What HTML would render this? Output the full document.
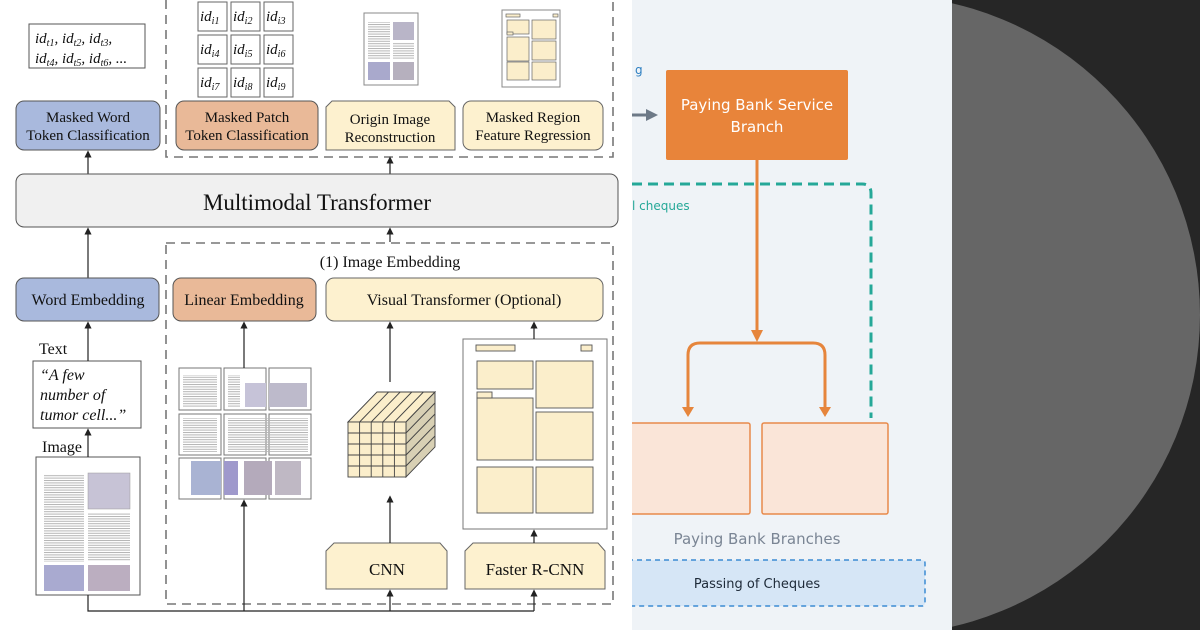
<!DOCTYPE html>
<html><head><meta charset="utf-8"><style>
html,body{margin:0;padding:0;width:1200px;height:630px;overflow:hidden;background:#fff}
svg{display:block}
.s{font-family:"Liberation Serif",serif;fill:#111}
.n{font-family:"DejaVu Sans","Liberation Sans",sans-serif}
</style></head><body>
<svg width="1200" height="630" viewBox="0 0 1200 630" xmlns="http://www.w3.org/2000/svg">
<defs>
<marker id="a" markerWidth="6" markerHeight="6" refX="3" refY="3" orient="auto"><path d="M0,0L6,3L0,6z" fill="#222"/></marker>
<marker id="o" markerWidth="4" markerHeight="4" refX="2" refY="2" orient="auto"><path d="M0,0L4,2L0,4z" fill="#e6853c"/></marker>
<marker id="g" markerWidth="4" markerHeight="4" refX="2" refY="2" orient="auto"><path d="M0,0L4,2L0,4z" fill="#6d7987"/></marker>
<pattern id="tl" width="4" height="2.4" patternUnits="userSpaceOnUse"><rect width="4" height="1" fill="#b5b5b5"/></pattern>
<clipPath id="dk"><rect x="952" y="0" width="248" height="630"/></clipPath>
</defs>

<rect x="952" y="0" width="248" height="630" fill="#262626"/>
<circle cx="880" cy="315" r="320" fill="#666" clip-path="url(#dk)"/>

<rect x="632" y="0" width="320" height="630" fill="#eff3f7"/>
<text x="635" y="74" class="n" font-size="12" fill="#2d7fc1">g</text>
<line x1="632" y1="115" x2="652" y2="115" stroke="#6d7987" stroke-width="3" marker-end="url(#g)"/>
<rect x="666" y="70" width="182" height="90" rx="2" fill="#e8843a"/>
<text x="757" y="110" class="n" font-size="15" fill="#fff" text-anchor="middle">Paying Bank Service</text>
<text x="757" y="132" class="n" font-size="15" fill="#fff" text-anchor="middle">Branch</text>
<path d="M632,184 H862 Q871,184 871,193 V418" fill="none" stroke="#25a898" stroke-width="3" stroke-dasharray="10,6"/>
<text x="632" y="210" class="n" font-size="12" fill="#25a898">l cheques</text>
<line x1="757" y1="160" x2="757" y2="336" stroke="#e6853c" stroke-width="3" marker-end="url(#o)"/>
<path d="M688,410 V355 Q688,343 700,343 H813 Q825,343 825,355 V410" fill="none" stroke="#e6853c" stroke-width="3"/>
<path d="M682,407 L694,407 L688,417z M819,407 L831,407 L825,417z" fill="#e6853c"/>
<rect x="625" y="423" width="125" height="91" rx="2" fill="#fae5d8" stroke="#e8894a" stroke-width="1.5"/>
<rect x="762" y="423" width="126" height="91" rx="2" fill="#fae5d8" stroke="#e8894a" stroke-width="1.5"/>
<text x="757" y="544" class="n" font-size="15" fill="#7a8594" text-anchor="middle">Paying Bank Branches</text>
<rect x="625" y="560" width="300" height="46" rx="3" fill="#d6e6f6" stroke="#3b8bd4" stroke-width="1.5" stroke-dasharray="5,4"/>
<text x="757" y="588" class="n" font-size="13" fill="#1e2a38" text-anchor="middle">Passing of Cheques</text>

<rect x="0" y="0" width="632" height="630" fill="#fff"/>

<path d="M166,0 V157 H613 V0" fill="none" stroke="#777" stroke-width="1.6" stroke-dasharray="9,6"/>
<rect x="29" y="24" width="116" height="44" fill="#fff" stroke="#555"/>
<text x="35" y="43" class="s" font-size="15" font-style="italic">id<tspan font-size="10" dy="3">t1</tspan><tspan dy="-3">, id</tspan><tspan font-size="10" dy="3">t2</tspan><tspan dy="-3">, id</tspan><tspan font-size="10" dy="3">t3</tspan><tspan dy="-3">,</tspan></text>
<text x="35" y="63" class="s" font-size="15" font-style="italic">id<tspan font-size="10" dy="3">t4</tspan><tspan dy="-3">, id</tspan><tspan font-size="10" dy="3">t5</tspan><tspan dy="-3">, id</tspan><tspan font-size="10" dy="3">t6</tspan><tspan dy="-3">, ...</tspan></text>
<g stroke="#666" fill="#fff">
<rect x="198" y="2" width="29" height="29"/><rect x="231" y="2" width="29" height="29"/><rect x="264" y="2" width="29" height="29"/>
<rect x="198" y="35" width="29" height="29"/><rect x="231" y="35" width="29" height="29"/><rect x="264" y="35" width="29" height="29"/>
<rect x="198" y="68" width="29" height="29"/><rect x="231" y="68" width="29" height="29"/><rect x="264" y="68" width="29" height="29"/>
</g>
<g class="s" font-size="15" font-style="italic">
<text x="200" y="21">id<tspan font-size="10" dy="3">i1</tspan></text><text x="233" y="21">id<tspan font-size="10" dy="3">i2</tspan></text><text x="266" y="21">id<tspan font-size="10" dy="3">i3</tspan></text>
<text x="200" y="54">id<tspan font-size="10" dy="3">i4</tspan></text><text x="233" y="54">id<tspan font-size="10" dy="3">i5</tspan></text><text x="266" y="54">id<tspan font-size="10" dy="3">i6</tspan></text>
<text x="200" y="87">id<tspan font-size="10" dy="3">i7</tspan></text><text x="233" y="87">id<tspan font-size="10" dy="3">i8</tspan></text><text x="266" y="87">id<tspan font-size="10" dy="3">i9</tspan></text>
</g>
<rect x="364" y="13" width="54" height="72" fill="#fff" stroke="#888"/>
<rect x="368" y="22" width="22" height="38" fill="url(#tl)"/>
<rect x="393" y="22" width="21" height="18" fill="#b9b5c8"/>
<rect x="393" y="42" width="21" height="18" fill="url(#tl)"/>
<rect x="368" y="62" width="22" height="18" fill="#a9a9cc"/>
<rect x="393" y="62" width="21" height="18" fill="#b6b0be"/>
<rect x="502" y="10" width="58" height="77" fill="#fff" stroke="#888"/>
<g fill="#fbeecb" stroke="#666" stroke-width="0.7">
<rect x="506" y="14" width="14" height="3"/><rect x="553" y="14" width="5" height="3"/>
<rect x="507" y="20" width="22" height="14"/><rect x="532" y="20" width="24" height="19"/>
<rect x="507" y="37" width="22" height="24"/><rect x="532" y="41" width="24" height="19"/>
<rect x="507" y="62" width="22" height="18"/><rect x="532" y="62" width="24" height="18"/>
<rect x="507" y="32" width="6" height="3"/>
</g>
<rect x="16" y="101" width="144" height="49" rx="8" fill="#a9b9dd" stroke="#555"/>
<text x="88" y="122" class="s" font-size="15" text-anchor="middle">Masked Word</text>
<text x="88" y="140" class="s" font-size="15" text-anchor="middle">Token Classification</text>
<rect x="176" y="101" width="142" height="49" rx="8" fill="#e9b998" stroke="#555"/>
<text x="247" y="122" class="s" font-size="15" text-anchor="middle">Masked Patch</text>
<text x="247" y="140" class="s" font-size="15" text-anchor="middle">Token Classification</text>
<path d="M326,150 V107 L332,101 H449 L455,107 V150 Z" fill="#fdf1cf" stroke="#666"/>
<text x="390" y="124" class="s" font-size="15" text-anchor="middle">Origin Image</text>
<text x="390" y="142" class="s" font-size="15" text-anchor="middle">Reconstruction</text>
<rect x="463" y="101" width="140" height="49" rx="8" fill="#fdf1cf" stroke="#666"/>
<text x="533" y="122" class="s" font-size="15" text-anchor="middle">Masked Region</text>
<text x="533" y="140" class="s" font-size="15" text-anchor="middle">Feature Regression</text>

<g stroke="#222" stroke-width="1.2" fill="none">
<line x1="88" y1="174" x2="88" y2="154" marker-end="url(#a)"/>
<line x1="390" y1="174" x2="390" y2="160" marker-end="url(#a)"/>
<line x1="88" y1="278" x2="88" y2="231" marker-end="url(#a)"/>
<line x1="390" y1="242" x2="390" y2="231" marker-end="url(#a)"/>
</g>
<rect x="16" y="174" width="602" height="53" rx="8" fill="#f0f0f0" stroke="#555"/>
<text x="317" y="210" class="s" font-size="23" text-anchor="middle">Multimodal Transformer</text>

<rect x="166" y="243" width="447" height="361" fill="none" stroke="#777" stroke-width="1.6" stroke-dasharray="9,6"/>
<text x="390" y="267" class="s" font-size="16" text-anchor="middle">(1) Image Embedding</text>
<rect x="16" y="278" width="143" height="43" rx="8" fill="#a9b9dd" stroke="#555"/>
<text x="88" y="305" class="s" font-size="16" text-anchor="middle">Word Embedding</text>
<rect x="173" y="278" width="143" height="43" rx="8" fill="#e9b998" stroke="#555"/>
<text x="244" y="305" class="s" font-size="16" text-anchor="middle">Linear Embedding</text>
<rect x="326" y="278" width="277" height="43" rx="8" fill="#fdf1cf" stroke="#666"/>
<text x="464" y="305" class="s" font-size="16" text-anchor="middle">Visual Transformer (Optional)</text>

<text x="39" y="354" class="s" font-size="16">Text</text>
<rect x="33" y="361" width="108" height="67" fill="#fff" stroke="#555"/>
<g class="s" font-size="16" font-style="italic"><text x="40" y="380">“A few</text><text x="40" y="400">number of</text><text x="40" y="420">tumor cell...”</text></g>
<text x="42" y="452" class="s" font-size="16">Image</text>
<rect x="36" y="457" width="104" height="138" fill="#fff" stroke="#555"/>
<rect x="44" y="474" width="40" height="88" fill="url(#tl)"/>
<rect x="88" y="473" width="42" height="36" fill="#c7c3d6" stroke="#999" stroke-width="0.5"/>
<rect x="88" y="513" width="42" height="48" fill="url(#tl)"/>
<rect x="44" y="565" width="40" height="26" fill="#a9aad0"/>
<rect x="88" y="565" width="42" height="26" fill="#bbaec0"/>

<g stroke="#777" fill="#fff">
<rect x="179" y="368" width="42" height="42"/><rect x="224" y="368" width="42" height="42"/><rect x="269" y="368" width="42" height="42"/>
<rect x="179" y="414" width="42" height="41"/><rect x="224" y="414" width="42" height="41"/><rect x="269" y="414" width="42" height="41"/>
<rect x="179" y="458" width="42" height="41"/><rect x="224" y="458" width="42" height="41"/><rect x="269" y="458" width="42" height="41"/>
</g>
<rect x="183" y="375" width="34" height="32" fill="url(#tl)"/><rect x="228" y="375" width="12" height="32" fill="url(#tl)"/>
<rect x="245" y="383" width="21" height="24" fill="#c6c3d8"/><rect x="269" y="383" width="38" height="24" fill="#bdbacb"/>
<rect x="183" y="418" width="34" height="34" fill="url(#tl)"/><rect x="228" y="418" width="80" height="34" fill="url(#tl)"/>
<rect x="191" y="461" width="30" height="34" fill="#a9b3d3"/><rect x="224" y="461" width="14" height="34" fill="#9f99cc"/>
<rect x="244" y="461" width="28" height="34" fill="#b4aabb"/><rect x="275" y="461" width="26" height="34" fill="#bfb8c4"/>

<g stroke="#444" stroke-width="0.9">
<path d="M348,422 L377,392 L435,392 L406,422Z" fill="#fbeecb"/>
<path d="M406,422 L435,392 L435,447 L406,477Z" fill="#d8d0b4"/>
<rect x="348" y="422" width="58" height="55" fill="#fbeecb"/>
<path d="M359.6,422V477M371.2,422V477M382.8,422V477M394.4,422V477M348,433H406M348,444H406M348,455H406M348,466H406" fill="none"/>
<path d="M359.6,422L388.6,392M371.2,422L400.2,392M382.8,422L411.8,392M394.4,422L423.4,392" fill="none"/>
<path d="M406,433L435,403M406,444L435,414M406,455L435,425M406,466L435,436" fill="none"/>
</g>

<rect x="463" y="339" width="144" height="190" fill="#fff" stroke="#777"/>
<g fill="#fbeecb" stroke="#555" stroke-width="0.9">
<rect x="476" y="345" width="39" height="6"/><rect x="581" y="345" width="11" height="6"/>
<rect x="477" y="361" width="56" height="28"/><rect x="536" y="361" width="57" height="47"/>
<rect x="477" y="398" width="56" height="62"/><rect x="536" y="412" width="57" height="48"/>
<rect x="477" y="392" width="15" height="6"/>
<rect x="477" y="467" width="56" height="46"/><rect x="536" y="467" width="57" height="46"/>
</g>

<path d="M326,589 V551 L334,543 H440 L447,551 V589 Z" fill="#fdf1cf" stroke="#666"/>
<text x="387" y="575" class="s" font-size="17" text-anchor="middle">CNN</text>
<path d="M465,589 V551 L473,543 H598 L605,551 V589 Z" fill="#fdf1cf" stroke="#666"/>
<text x="535" y="575" class="s" font-size="17" text-anchor="middle">Faster R-CNN</text>

<g stroke="#222" stroke-width="1.2" fill="none">
<line x1="88" y1="361" x2="88" y2="325" marker-end="url(#a)"/>
<line x1="88" y1="457" x2="88" y2="432" marker-end="url(#a)"/>
<line x1="244" y1="368" x2="244" y2="325" marker-end="url(#a)"/>
<line x1="390" y1="382" x2="390" y2="325" marker-end="url(#a)"/>
<line x1="534" y1="339" x2="534" y2="325" marker-end="url(#a)"/>
<line x1="390" y1="543" x2="390" y2="499" marker-end="url(#a)"/>
<line x1="534" y1="543" x2="534" y2="533" marker-end="url(#a)"/>
<path d="M88,595 V611 H534"/>
<line x1="244" y1="611" x2="244" y2="503" marker-end="url(#a)"/>
<line x1="390" y1="611" x2="390" y2="593" marker-end="url(#a)"/>
<line x1="534" y1="611" x2="534" y2="593" marker-end="url(#a)"/>
</g>
</svg>
</body></html>
